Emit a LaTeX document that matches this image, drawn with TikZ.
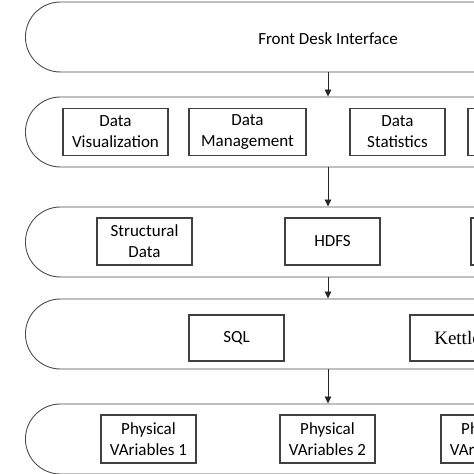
\documentclass[tikz,border=0pt]{standalone}
\usepackage{fontspec}
\setmainfont{Carlito}
\newfontfamily\kettlefont{Liberation Serif}
\usetikzlibrary{arrows.meta,positioning,shapes.misc}

\begin{document}
\begin{tikzpicture}[x=1pt,y=1pt,>={Triangle[length=7pt,width=6.5pt]},
  band/.style={draw=black!70,line width=0.9pt,rounded rectangle,rounded rectangle east arc=none,
    minimum width=575pt,minimum height=70pt,anchor=west,inner sep=0pt},
  unit/.style={draw=black!75,line width=1.1pt,minimum width=95pt,minimum height=47pt,
    align=center,inner sep=0pt,font=\fontsize{17}{21}\selectfont},
  flow/.style={->,draw=black!85,line width=0.9pt}]
  \useasboundingbox (0,0) rectangle (474,474);
  \clip (0,0) rectangle (474,474);
  \node[band] (l1) at (25,437) {};
  \node[band] (l2) at (25,342) {};
  \node[band] (l3) at (25,232) {};
  \node[band] (l4) at (25,140) {};
  \node[band] (l5) at (25,35) {};
  \node[font=\fontsize{17}{21}\selectfont] (fdi) at (328,435) {Front Desk Interface};
  \node[unit,minimum width=105pt] (dv) at (115.5,342) {Data\\Visualization};
  \node[unit,minimum width=117pt] (dm) at (247.5,342) {Data\\Management};
  \node[unit] (ds) at (397.5,342) {Data\\Statistics};
  \node[unit] (dx) at (515.5,342) {};
  \node[unit] (sd) at (144.5,232.5) {Structural\\Data};
  \node[unit] (hdfs) at (332.5,232.5) {HDFS};
  \node[unit,line width=2.5pt] (sx) at (518.5,232.5) {};
  \node[unit,minimum height=46pt] (sql) at (236.5,136) {SQL};
  \node[unit,minimum height=46pt,font=\kettlefont\fontsize{19}{21}\selectfont] (kettle) at (457.5,136) {Kettle};
  \node[unit,minimum height=48pt] (pv1) at (148.5,35) {Physical\\VAriables 1};
  \node[unit,minimum height=48pt] (pv2) at (327.5,35) {Physical\\VAriables 2};
  \node[unit,minimum height=48pt] (pv3) at (488.5,35) {Physical\\VAriables 3};
  \draw[flow] (l1.south -| fdi) -- (l2.north -| fdi);
  \draw[flow] (l2.south -| fdi) -- (l3.north -| fdi);
  \draw[flow] (l3.south -| fdi) -- (l4.north -| fdi);
  \draw[flow] (l4.south -| fdi) -- (l5.north -| fdi);
\end{tikzpicture}
\end{document}
